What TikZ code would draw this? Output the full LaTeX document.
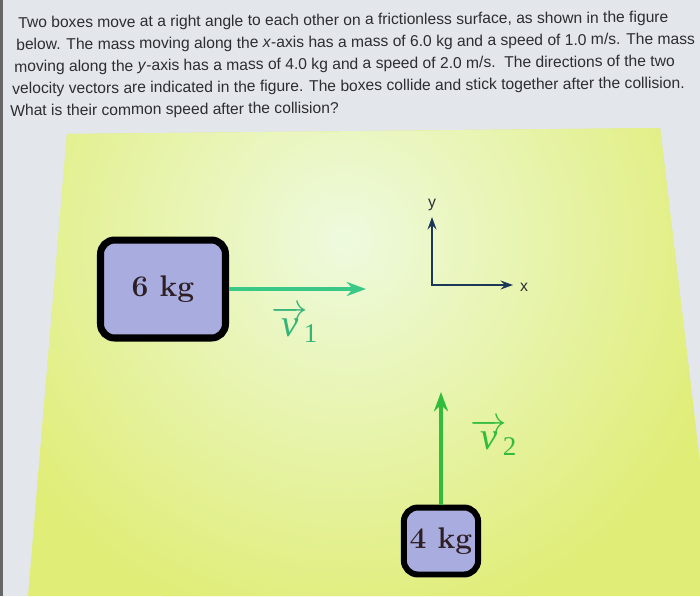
\documentclass[tikz,border=0pt]{standalone}
\usepackage{fontspec}
\setsansfont{Liberation Sans}
\newfontfamily\vfont{Liberation Serif}
\usepackage{amsmath}
\usepackage{tikz}
\usetikzlibrary{arrows.meta,positioning}

\definecolor{screen}{RGB}{227,230,234}
\definecolor{panel}{RGB}{224,237,118}
\definecolor{glare}{RGB}{238,250,222}
\definecolor{boxfill}{RGB}{168,172,222}
\definecolor{massink}{RGB}{45,30,35}
\definecolor{vgreenA}{RGB}{58,200,135}
\definecolor{vgreenB}{RGB}{50,188,60}
\definecolor{axisblue}{RGB}{28,55,88}
\definecolor{qtext}{RGB}{45,45,50}

\begin{document}
\begin{tikzpicture}[x=0.02cm, y=-0.02cm, % one unit = one pixel
	line join=miter,
	qline/.style={anchor=base west, inner sep=0pt, rotate=0.5, text=qtext,
		font=\sffamily\fontsize{8.9pt}{10pt}\selectfont},
	mass/.style={draw=black, fill=boxfill, rounded corners=8pt, text=massink,
		font=\bfseries\fontsize{17pt}{17pt}\selectfont},
	vel/.style={-{Stealth[length=11pt,width=8pt]}, line width=2.8pt},
	vlabel/.style={font=\vfont\fontsize{22pt}{22pt}\selectfont},
	axis/.style={{Stealth[length=7pt,width=5pt]}-{Stealth[length=7pt,width=5pt]}, line width=1.6pt, draw=axisblue},
	axlabel/.style={font=\sffamily\fontsize{9pt}{9pt}\selectfont, text=qtext}]
	\useasboundingbox (0,0) rectangle (700,596);
	\fill[screen] (0,0) rectangle (700,596);
	\fill[black!60] (0,0) rectangle (3,596);
	% the question
	\node[qline] (q1) at (18,28) {Two boxes move at a right angle to each other on a frictionless surface, as shown in the figure};
	\node[qline] (q2) at (16,50) {below. The mass moving along the \textit{x}-axis has a mass of 6.0 kg and a speed of 1.0 m/s. The mass};
	\node[qline] (q3) at (14,72) {moving along the \textit{y}-axis has a mass of 4.0 kg and a speed of 2.0 m/s.\ \ The directions of the two};
	\node[qline] (q4) at (12,94) {velocity vectors are indicated in the figure. The boxes collide and stick together after the collision.};
	\node[qline] (q5) at (10,116) {What is their common speed after the collision?};
	% the figure panel
	\begin{scope}
		\clip (67,134) -- (660,128) -- (716,596) -- (28,596) -- cycle;
		\fill[panel] (0,100) rectangle (720,600);
		\shade[inner color=glare, outer color=panel] (345,240) circle (8cm);
	\end{scope}
	% boxes
	\node[mass, line width=4pt, minimum width=2.5cm, minimum height=1.96cm] (m6) at (163,289) {6 kg};
	\node[mass, line width=3.4pt, minimum width=1.44cm, minimum height=1.34cm] (m4) at (441,541) {4 kg};
	% velocities
	\coordinate (v1end) at (366,289);
	\coordinate (v2end) at (441,392);
	\draw[vel, vgreenA] (m6.east) -- (v1end);
	\draw[vel, vgreenB] (m4.north) -- (v2end);
	\node[vlabel, text=vgreenA!90!black] (v1) at (295,324) {$\overrightarrow{\text{\itshape v}}{}_{\mkern-3mu\text{1}}$};
	\node[vlabel, text=vgreenB] (v2) at (494,437) {$\overrightarrow{\text{\itshape v}}{}_{\mkern-3mu\text{2}}$};
	% axes
	\coordinate (o) at (432,285);
	\coordinate (xend) at (513,285);
	\coordinate (yend) at (432,217);
	\draw[axis] (yend) -- (o) -- (xend);
	\node[axlabel] (xl) at (524,287) {x};
	\node[axlabel] (yl) at (432,205) {y};
\end{tikzpicture}
\end{document}
